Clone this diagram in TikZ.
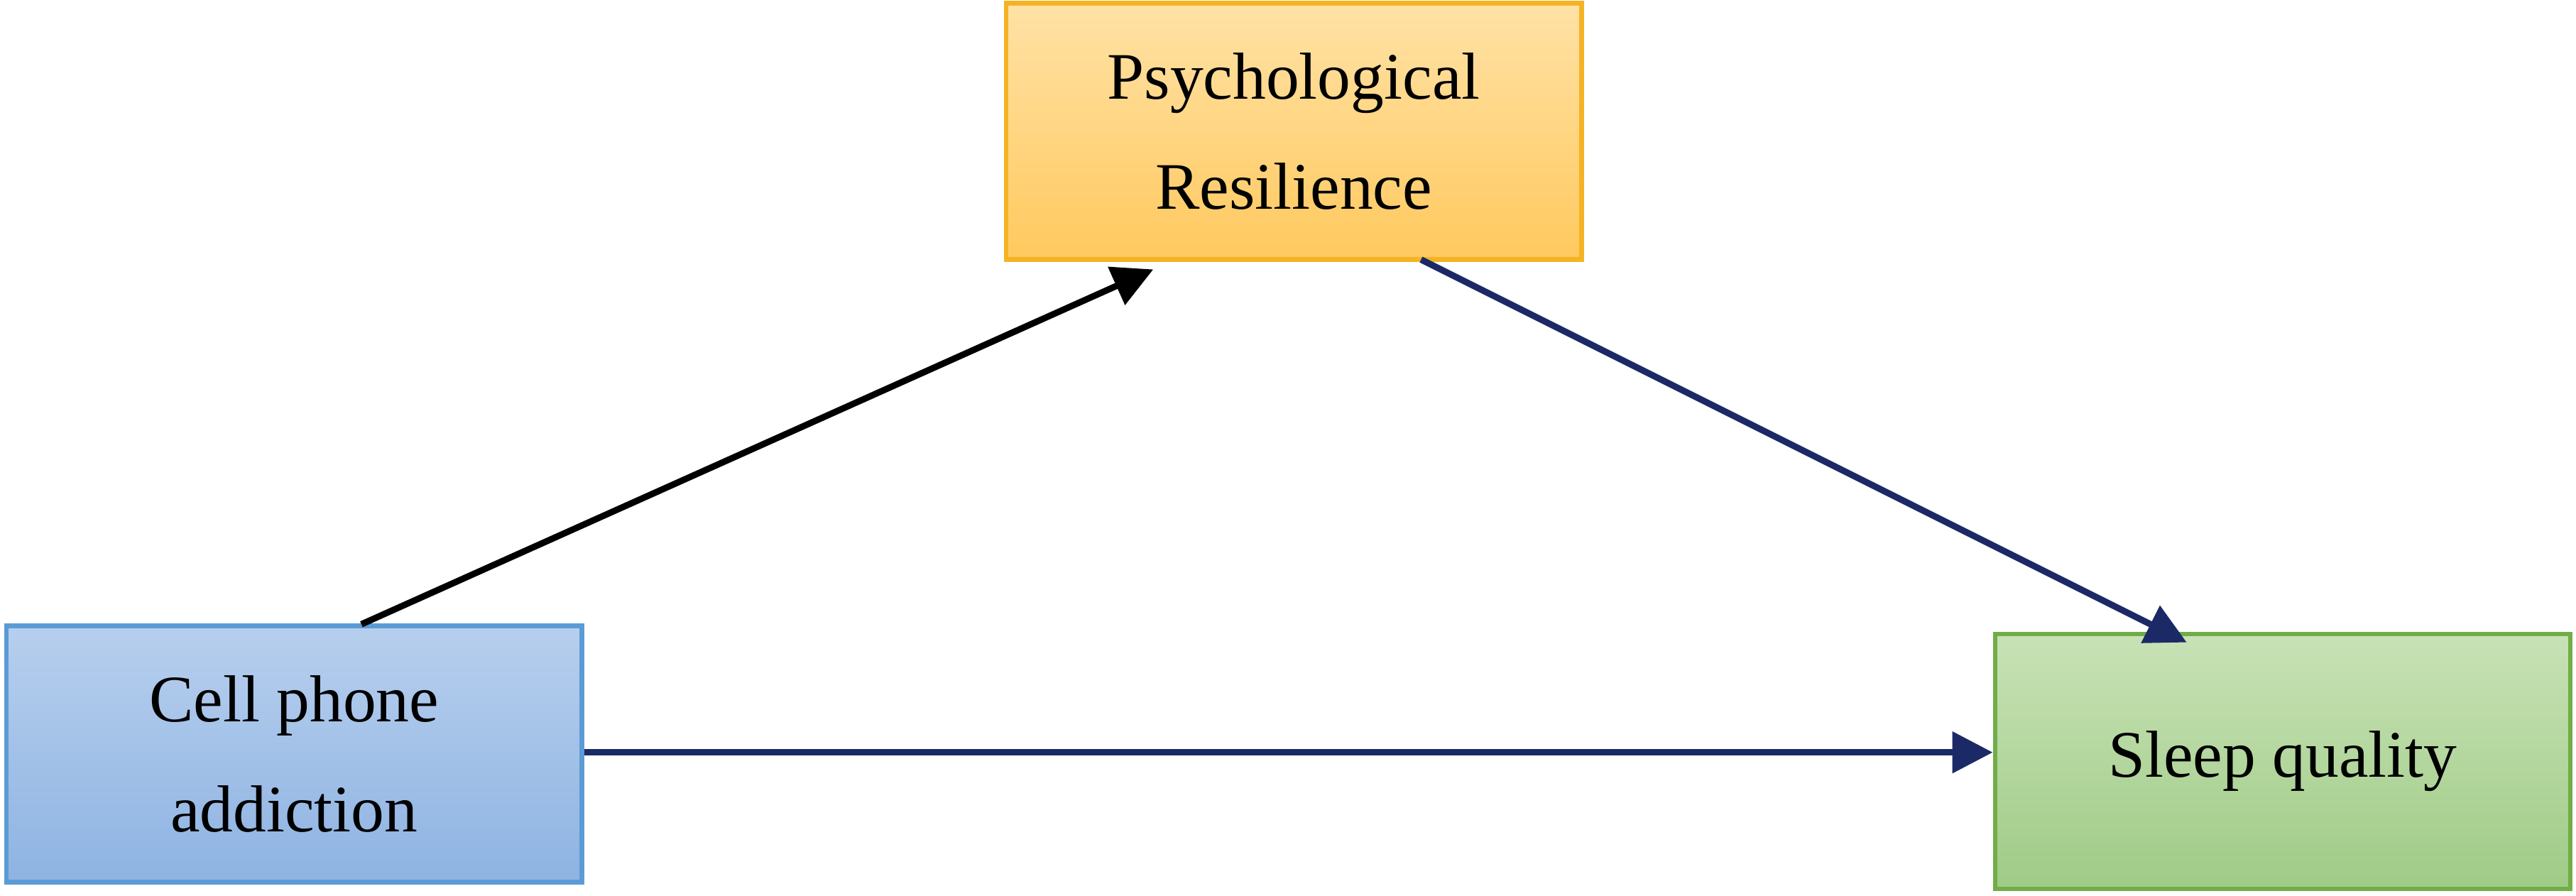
\documentclass[tikz,border=0pt]{standalone}
\usepackage{fontspec}
\setmainfont{Liberation Serif}
\usetikzlibrary{arrows.meta}
\definecolor{navy}{HTML}{1B2A66}
\definecolor{otop}{HTML}{FFE2A6}
\definecolor{obot}{HTML}{FFC95E}
\definecolor{oedge}{HTML}{F5B324}
\definecolor{btop}{HTML}{B7CFEE}
\definecolor{bbot}{HTML}{8EB3E2}
\definecolor{bedge}{HTML}{5B9BD5}
\definecolor{gtop}{HTML}{C8E2B6}
\definecolor{gbot}{HTML}{9FCB86}
\definecolor{gedge}{HTML}{70AD47}
\tikzset{
 box/.style={draw, line width=0.8pt, minimum width=3.5cm, minimum height=1.56cm, align=center, font=\fontsize{11.5}{16}\selectfont, inner sep=0pt},
 conn/.style={line width=1.1pt, -{Triangle[length=7pt,width=7pt]}}
}
\begin{document}
\begin{tikzpicture}[x=0.01cm,y=-0.01cm]
\useasboundingbox (0,0) rectangle (1568,545);
\node[box, draw=oedge, top color=otop, bottom color=obot] (pr) at (787.5,80) {Psychological\\[3pt]Resilience};
\node[box, draw=bedge, top color=btop, bottom color=bbot] (cp) at (179,459) {Cell phone\\[3pt]addiction};
\node[box, draw=gedge, top color=gtop, bottom color=gbot, minimum height=1.55cm] (sq) at (1389.5,463.5) {Sleep quality};
\coordinate (a1) at (220,380);
\coordinate (a2) at (702,164);
\coordinate (b1) at (865,158);
\coordinate (b2) at (1331,391);
\draw[conn, black] (a1) -- (a2);
\draw[conn, navy] (b1) -- (b2);
\draw[conn, navy] (cp.east |- 0,458) -- (sq.west |- 0,458);
\end{tikzpicture}
\end{document}
